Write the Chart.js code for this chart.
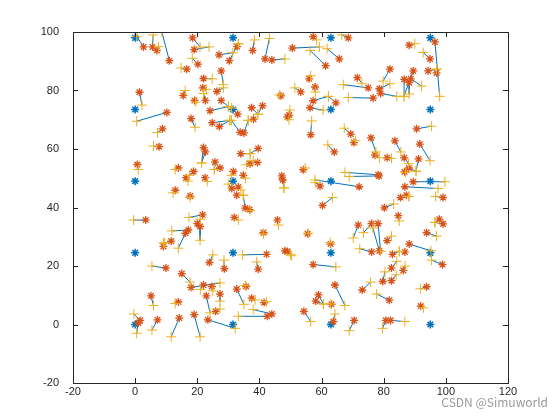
<!DOCTYPE html>
<html>
<head>
<meta charset="utf-8">
<script src="https://cdn.jsdelivr.net/npm/chart.js@4"></script>
<style>
  body { margin: 0; background: #fff; }
  #wrap { position: relative; width: 560px; height: 420px; }
  #credit { position: absolute; right: 12px; bottom: 10px; font: 12px "Noto Sans CJK SC", "Noto Sans", sans-serif; color: #999; }
</style>
</head>
<body>
<div id="wrap">
  <canvas id="c" width="560" height="420"></canvas>
  <div id="credit">CSDN @Simuworld</div>
</div>
<script>
// grid of anchor nodes (blue stars)
const anchorX = [0, 31.5, 63, 95];
const anchorY = [0, 24.5, 49, 73.5, 98];

// red star positions
const redX = [
  2.7,5.6,7,11,18.5,19,20.2,16.6,27,32.8,30.3,37.8,41.8,44,27.7,22,26.3,21.8,15.5,19.1,22.6,27.7,24.1,33,37.5,41,24.8,27.1,38.1,33.8,35,18,8.8,1.4,10.2,7.7,22,22.6,34,39.6,37,39.4,25.7,27.3,13.9,18.8,0.7,31.6,34.8,47.2,49,46.9,
  57.3,68.6,50.6,65.7,61.3,88.2,96.5,94.9,82,89.5,94.3,97,86.6,88.7,88.2,71.5,75,78.6,79,76.6,56,53.3,57.9,57.3,64.6,56.3,49.6,90.6,56.5,69.4,70.4,64.1,75.9,77.2,81.1,83.6,91.6,86.6,91.2,88.1,86.7,78.2,54.1,
  12.9,17.7,16.4,22.5,31.1,32.7,33.2,35.4,36.8,47.5,3.4,21.7,20,20.9,17.1,16.2,11.6,9.1,31.9,45.8,41.3,23.9,28.7,42.3,39.6,49,9.9,15,18,22,24.7,22.9,27.3,32.7,35.7,37.5,41.5,5.1,13.9,25.9,44,42.5,1.6,1,7.2,14.2,19,23.4,
  78.5,72.1,59.5,89.5,86.8,99.1,85.4,87.3,80.2,60.3,84.7,97.9,99.1,93.8,55.5,71.8,76.1,78.2,78.6,76.1,81.1,62.9,48.2,88.2,86.8,82.8,82.5,86.3,98.9,57.3,79.7,82.5,64.3,73.1,81.8,93.8,59,58.1,63.2,91.9,54.3,63.8,70.5,80.7,82.2
];
const redY = [
  94.9,94.9,93.7,90.2,98,94,89,87.3,92.2,95,90.2,93.7,90.8,90.4,86.7,84.1,79.7,80.9,78.3,76.6,76.6,76.6,73.1,71.9,74.1,74.8,69,67.7,70.2,65.7,65.5,70.4,66.9,79.4,72.5,60.8,60.5,59,58.4,60.2,55,55.4,55.5,53.5,53.5,52.3,54.7,52.3,51,50.8,71,78.2,
  98.4,98,94.5,90.8,88.5,95.5,96.6,90.8,87.3,86.7,86.7,86,83.8,84,82.7,84.4,80.9,80.6,79,77.4,84,79.5,81.2,76.5,75.8,74.1,71.6,66.9,64.9,65.1,62.2,59,63.8,57.9,57,62.8,61.7,57,56.6,53.5,52.2,51.2,52.9,
  45.9,43.9,50.2,50.2,46.5,44.2,47,39.8,39.3,49.4,35.7,37.5,34.5,33.5,32.3,31.2,28.5,26.7,36.6,35.7,31.4,21.2,19.1,24,18.9,25,19.3,17.4,12.7,13.5,13,9.8,10.4,12.1,13,9,7.5,9.8,7.7,4.5,3.6,2.8,1.4,0.5,1.6,2.2,3.4,1.6,
  50.8,47.1,47.3,48.8,47.1,43.4,43.4,44.2,39.9,40.7,37.2,36,34.4,31.4,31,34,34.5,34.5,25.2,24.8,28.7,27.5,25.2,27.5,24.8,24,19.3,18.5,20.5,20.5,14.7,15,13.5,11.8,8.3,12.9,10.1,8,6.9,6.3,4.5,1,1.4,1.4,1.4
];
// yellow plus positions (paired with red stars)
const plusX = [
  0.5,5.8,7.5,8.6,20.9,23.8,18.4,14.8,31.4,33.2,33.2,38.4,43.2,48.2,28.4,24.8,28.4,22.9,16.1,19.5,22,30,30,31,39.5,39.5,30.5,30.5,36.4,31,36.4,19.3,7.2,2.2,0.5,5.9,21.4,21.4,37,37,35.8,38,25.5,25.5,12.9,17.5,1,31,35.5,47.9,49.5,46.5,
  58.4,66.5,59.3,61.8,56.3,90,98,92.7,79.8,86.5,97,97,86.5,92.2,88.2,73,67,82,84.2,68.6,56.5,51.4,58,62.2,62.2,60.5,49.8,95.4,56.8,67.3,70.9,62,77.5,78.6,82.5,85.5,94.9,88,90.4,90.4,87,67.5,54.7,
  12.2,17.7,17,23.2,30,34.8,34,34.8,37,47.9,-0.5,17.3,21,20.9,11.8,13.9,9.1,9.5,33.2,46.1,41.3,25,28.6,34.6,39.1,50,5.4,17.7,27.3,21,25,24.1,27.3,35,35.5,38.6,42.3,5.9,12.9,27.3,38,33.2,-0.4,0.5,5.4,11.6,20.9,32.2,
  68.9,57.9,58,99.7,97.5,96.7,88.1,88.1,83.2,63.5,85,96.5,96.5,97,55.7,70.2,73.5,79,76.5,72.3,82.5,62.8,50.3,95.2,85,85,84.2,86.9,95.4,64.6,80.4,84,67.5,75.8,77.7,91.8,60.6,60.6,63,92.8,56.5,64.3,68.9,79.6,86.8
];
const plusY = [
  98.5,99,95,100,94.9,94.9,91,87.7,92.9,96,96,97.3,97.8,90.8,82,84,80.9,80.4,80,76,79,74.5,74.5,74,71.9,71.9,69.8,69.8,69.8,69.8,69.8,67.4,65.6,75,69.5,61,55.2,55.2,58.4,58.4,54.6,56,53,53,53,51,53,51,50,46.7,70,78.5,
  97.3,99,94.9,94.3,93.7,96,78,93,83.2,78,87.3,87.3,78,81.5,78.8,82.5,82,82.3,78,77.6,85,80.9,79.5,78,78,73.3,73.3,67.8,69.6,67.1,62.8,61.4,59,57,56.8,59,56,55,52.4,52.4,52,52,53.5,
  45,43.4,49,48.9,48,44.2,46,44.2,39,46.7,35.7,36.6,36,28.8,32,26.1,27.8,28,35.7,34,31,23.8,22,23.8,21.4,24,20,14.5,14.2,12,11.5,4,8,6.9,13.3,8.4,7.8,6.5,7.2,5.3,5.1,2.8,3.6,-3,-1.9,-4.2,-4.2,-1.3,
  50.6,49.4,48.5,48.8,46.5,43.8,43.8,43.8,41.2,43.4,35.4,34.9,34.9,30.2,31.2,29.6,31.4,25,33,25.9,30.2,28,23.5,25.2,25,25,21.6,20,22,19.7,18,17,6.5,14.5,10.4,12.2,7,7,7,5.7,1,3.6,-2.1,-1.3,1
];
const xTicks = [-20, 0, 20, 40, 60, 80, 100, 120];
const yTicks = [-20, 0, 20, 40, 60, 80, 100];

const anchors = [];
anchorX.forEach(x => anchorY.forEach(y => anchors.push({ x, y })));
const reds = redX.map((x, i) => ({ x, y: redY[i] }));
const pluses = plusX.map((x, i) => ({ x, y: plusY[i] }));
const links = [];
reds.forEach((r, i) => { links.push(r, pluses[i], { x: null, y: null }); });

// MATLAB-like box with inward ticks
const boxPlugin = {
  id: 'box',
  afterDraw(chart) {
    const { ctx, chartArea: a, scales } = chart;
    ctx.save();
    ctx.strokeStyle = '#262626';
    ctx.lineWidth = 1;
    ctx.strokeRect(a.left + 0.5, a.top + 0.5, a.right - a.left, a.bottom - a.top);
    ctx.beginPath();
    xTicks.forEach(t => {
      const x = Math.round(scales.x.getPixelForValue(t)) + 0.5;
      ctx.moveTo(x, a.bottom); ctx.lineTo(x, a.bottom - 5);
      ctx.moveTo(x, a.top); ctx.lineTo(x, a.top + 5);
    });
    yTicks.forEach(t => {
      const y = Math.round(scales.y.getPixelForValue(t)) + 0.5;
      ctx.moveTo(a.left, y); ctx.lineTo(a.left + 5, y);
      ctx.moveTo(a.right, y); ctx.lineTo(a.right - 5, y);
    });
    ctx.stroke();
    ctx.restore();
  }
};

const tickFont = { family: 'Liberation Sans, Arial, sans-serif', size: 11 };

new Chart(document.getElementById('c'), {
  type: 'scatter',
  data: {
    datasets: [
      { data: links, showLine: true, spanGaps: false, borderColor: '#0072BD', borderWidth: 1, pointRadius: 0, order: 4 },
      { data: anchors, pointStyle: 'star', pointRadius: 4, borderColor: '#0072BD', borderWidth: 1.5, order: 3 },
      { data: reds, pointStyle: 'star', pointRadius: 4, borderColor: '#D95319', borderWidth: 1.3, order: 2 },
      { data: pluses, pointStyle: 'cross', pointRadius: 5, borderColor: '#EDB120', borderWidth: 1, order: 1 }
    ]
  },
  options: {
    responsive: false,
    animation: false,
    events: [],
    layout: { padding: { left: 0, top: 32, right: 52, bottom: 0 } },
    plugins: { legend: { display: false }, tooltip: { enabled: false } },
    scales: {
      x: {
        type: 'linear', min: -20, max: 120,
        grid: { display: false }, border: { display: false },
        afterBuildTicks: s => { s.ticks = xTicks.map(v => ({ value: v })); },
        afterFit: s => { s.height = 37; },
        ticks: { color: '#262626', font: tickFont, padding: -6, maxRotation: 0 }
      },
      y: {
        type: 'linear', min: -20, max: 100,
        grid: { display: false }, border: { display: false },
        afterBuildTicks: s => { s.ticks = yTicks.map(v => ({ value: v })); },
        afterFit: s => { s.width = 73; },
        ticks: { color: '#262626', font: tickFont, padding: 6 }
      }
    }
  },
  plugins: [boxPlugin]
});
</script>
</body>
</html>
